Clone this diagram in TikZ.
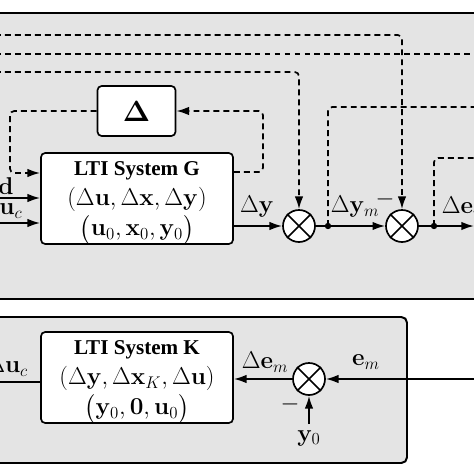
\documentclass[tikz,border=0pt]{standalone}
\usepackage{amsmath}
\usepackage[no-math]{fontspec}
\setmainfont{Liberation Serif}
\usetikzlibrary{arrows.meta}
\definecolor{panelgray}{RGB}{228,228,228}
\newcommand{\titlefont}{\fontsize{15}{22}\selectfont\rule{0pt}{10pt}}
\newcommand{\nodepth}[1]{\raisebox{0pt}[\height][0pt]{#1}}
\tikzstyle{connector} = [line width=1.2pt, -{Latex[length=9pt,width=6pt]}]
\tikzstyle{fbline} = [line width=1.2pt, dash pattern=on 4.2pt off 2.9pt, rounded corners=3pt]
\tikzstyle{fb} = [fbline, -{Latex[length=9pt,width=6pt]}]
\tikzstyle{block} = [draw, line width=1.2pt, fill=white, rounded corners=3pt, align=center, inner sep=1pt]
\tikzstyle{sumj} = [circle, draw, line width=1.2pt, fill=white, minimum size=0.8cm, inner sep=0pt]
\tikzstyle{dot} = [circle, fill, inner sep=1.6pt]

\begin{document}
\begin{tikzpicture}[x=0.025cm, y=-0.025cm, font=\fontsize{16.5}{21.5}\selectfont]
                \path[use as bounding box, clip] (0,0) rectangle (474,474);
                % panels
                \draw[line width=1.4pt, fill=panelgray] (-20,13) rectangle (494,299);
                \draw[line width=1.4pt, fill=panelgray, rounded corners=4pt] (-20,317) rectangle (407,463);

                % plant side
                \node (G) [block, minimum width=4.8cm, minimum height=2.275cm] at (137,198.5) {{\titlefont\textbf{LTI System G}}\\ $(\Delta\mathbf{u}, \Delta\mathbf{x}, \Delta\mathbf{y})$\\ \nodepth{$\big(\mathbf{u}_0, \mathbf{x}_0, \mathbf{y}_0\big)$}};
                \node (D) [block, minimum width=1.95cm, minimum height=1.25cm, font=\fontsize{21}{24}\selectfont] at (136.5,111) {$\mathbf{\Delta}$};
                \node (j1) [sumj] at (299,226) {};
                \node (j2) [sumj] at (402,226) {};
                \node (b1) [dot] at (328,226) {};
                \node (b2) [dot] at (434,226) {};

                \coordinate (w1) at (-5,35);
                \coordinate (w2a) at (-5,54);
                \coordinate (w2b) at (480,54);
                \coordinate (w3) at (-5,72);
                \coordinate (w4) at (480,107);
                \coordinate (w5) at (480,158);
                \coordinate (gq) at (263,172);
                \coordinate (gi) at (10,173);

                \draw [fb] (w1) -| (j2.north);
                \draw [fbline] (w2a) -- (w2b);
                \draw [fb] (w3) -| (j1.north);
                \draw [fbline] (b1.center) |- (w4);
                \draw [fbline] (b2.center) |- (w5);
                \draw [fb] (G.east |- gq) -- (gq) |- (D.east);
                \draw [fb] (D.west) -| (gi) -- (G.west |- gi);

                \coordinate (dIn) at (-5,198);
                \coordinate (uIn) at (-5,223);
                \coordinate (eOut) at (474,226);
                \draw [connector] (dIn) -- (G.west |- dIn);
                \draw [connector] (uIn) -- (G.west |- uIn);
                \draw [connector] (G.east |- j1) -- (j1);
                \draw [connector] (j1) -- (j2);
                \draw [connector] (j2) -- (eOut);

                \node (ld) at (6,186) {$\mathbf{d}$};
                \node (luc) at (11,211) {$\mathbf{u}_c$};
                \node (ly) at (257,207) {$\Delta\mathbf{y}$};
                \node (lym) at (355,207) {$\Delta\mathbf{y}_m$};
                \node (lm1) at (385,199) {$-$};
                \node (lem) [anchor=west] at (437,207) {$\Delta\mathbf{e}_m$};

                % controller side
                \node (K) [block, minimum width=4.8cm, minimum height=2.275cm] at (137,377.5) {{\titlefont\textbf{LTI System K}}\\ $(\Delta\mathbf{y}, \Delta\mathbf{x}_K, \Delta\mathbf{u})$\\ \nodepth{$\big(\mathbf{y}_0, \mathbf{0}, \mathbf{u}_0\big)$}};
                \node (j3) [sumj] at (309,379) {};

                \coordinate (uOut) at (-20,382);
                \coordinate (emIn) at (480,379);
                \coordinate (y0In) at (309,424);
                \draw [connector] (K.west |- uOut) -- (uOut);
                \draw [connector] (j3) -- (K.east |- j3);
                \draw [connector] (emIn) -- (j3);
                \draw [connector] (y0In) -- (j3);

                \node (lduc) [anchor=east] at (33,366) {$\Delta\mathbf{u}_c$};
                \node (lem3) at (265,362) {$\Delta\mathbf{e}_m$};
                \node (lemin) at (366,362) {$\mathbf{e}_m$};
                \node (lm3) at (290,404) {$-$};
                \node (ly0) at (309,438) {$\mathbf{y}_0$};

                \foreach \j in {j1,j2,j3}
                    \draw [line width=1.2pt] (\j.north east) -- (\j.south west) (\j.north west) -- (\j.south east);
            \end{tikzpicture}
\end{document}
